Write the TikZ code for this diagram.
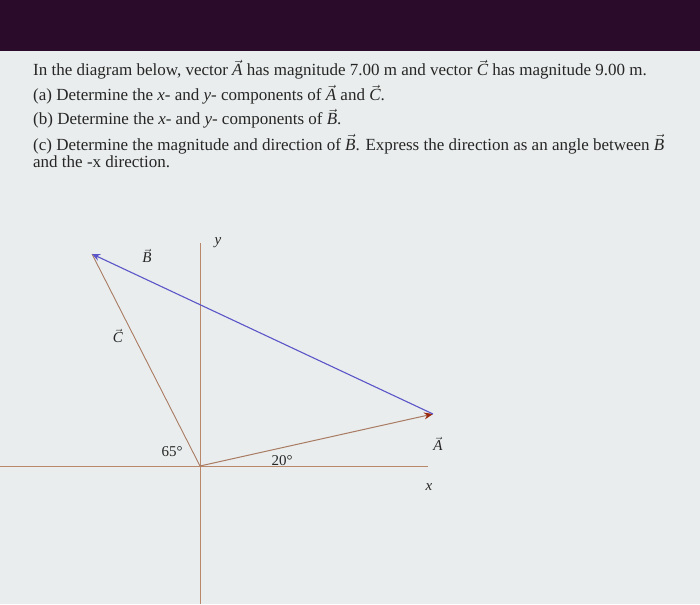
\documentclass[tikz,border=0pt]{standalone}
\usepackage{fontspec}
\setmainfont{Liberation Serif}
\usetikzlibrary{arrows.meta}
\definecolor{band}{HTML}{2A0B2A}
\definecolor{paper}{HTML}{EAEDED}
\definecolor{axis}{HTML}{B9876A}
\definecolor{cline}{HTML}{A87B62}
\definecolor{bline}{HTML}{5A55C8}
\definecolor{ahead}{HTML}{9A2A10}
\newcommand{\vv}[1]{$\vec{\textit{#1}}$}
\tikzset{
  txt/.style={anchor=base west, inner sep=0pt, font=\fontsize{17}{19}\selectfont, text=black!85},
  lbl/.style={inner sep=0pt, font=\fontsize{15}{17}\selectfont, text=black!85},
  axisline/.style={draw=axis, line width=0.9pt},
  vecC/.style={draw=cline, line width=0.9pt},
  vecA/.style={draw=cline, line width=1pt, -{Stealth[length=9pt,width=7pt,color=ahead,fill=ahead]}},
  vecB/.style={draw=bline, line width=1.1pt, -{Stealth[length=8pt,width=7pt,fill=bline]}}
}
\begin{document}
\begin{tikzpicture}[x=1pt,y=-1pt]
\useasboundingbox (0,0) rectangle (700,604);
\fill[paper] (0,0) rectangle (700,604);
\fill[band] (0,0) rectangle (700,51);
% text
\node[txt] (t1) at (33,76) {In the diagram below, vector \vv{A} has magnitude 7.00 m and vector \vv{C} has magnitude 9.00 m.};
\node[txt] (t2) at (33,101) {(a) Determine the \textit{x}- and \textit{y}- components of \vv{A} and \vv{C}.};
\node[txt] (t3) at (33,125) {(b) Determine the \textit{x}- and \textit{y}- components of \vv{B}.};
\node[txt] (t4) at (33,150) {(c) Determine the magnitude and direction of \vv{B}. Express the direction as an angle between \vv{B}};
\node[txt] (t5) at (33,167) {and the -x direction.};
% geometry
\coordinate (O) at (200,466);
\coordinate (xl) at (0,466);
\coordinate (xr) at (428,466);
\coordinate (yt) at (200,243);
\coordinate (yb) at (200,604);
\coordinate (Atip) at (433,414);
\coordinate (Btip) at (92,254);
\draw[axisline] (xl) -- (xr);
\draw[axisline] (yt) -- (yb);
\draw[vecC] (O) -- (Btip);
\draw[vecA] (O) -- (Atip);
\draw[vecB] (Atip) -- (Btip);
% labels
\node[lbl] (lB) at (147,256) {\vv{B}};
\node[lbl] (ly) at (218,243) {\textit{y}};
\node[lbl] (lC) at (118,336) {\vv{C}};
\node[lbl] (l65) at (172,452) {65°};
\node[lbl] (l20) at (282,461) {20°};
\node[lbl] (lA) at (438,444) {\vv{A}};
\node[lbl] (lx) at (429,487) {\textit{x}};
\end{tikzpicture}
\end{document}
